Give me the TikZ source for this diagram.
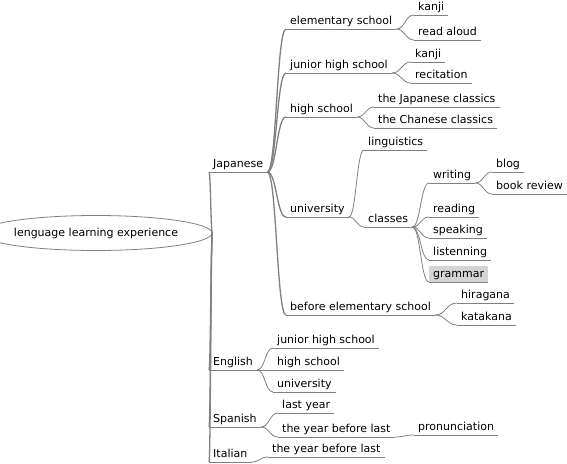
\documentclass[tikz,border=0pt]{standalone}
\usepackage{fontspec}
\setmainfont{DejaVu Sans}
\usetikzlibrary{shapes.geometric, calc}
\definecolor{edgegray}{HTML}{808080}
\tikzset{
  topic/.style={anchor=south west, inner xsep=4pt, inner ysep=1.5pt, text height=10pt, text depth=2.5pt, font=\fontsize{11}{13}\selectfont},
  uline/.style={draw=edgegray, line width=0.8pt},
  branch/.style={draw=edgegray, line width=0.8pt, to path={let \p1=(\tikztostart), \p2=(\tikztotarget) in .. controls ({0.5*\x1+0.5*\x2},\y1) and ({0.5*\x1+0.5*\x2},\y2) .. (\p2)}},
  trunk/.style={branch, line width=1.3pt}
}
\begin{document}
\begin{tikzpicture}[x=1pt, y=-1pt]
	\useasboundingbox (0,0) rectangle (567,463);
	\node[ellipse, draw=edgegray, line width=0.8pt, minimum width=190pt, minimum height=35pt, inner sep=0pt, font=\fontsize{11}{13}\selectfont] (root) at (96,233) {lenguage learning experience};
	% Japanese
	\node[topic] (jp) at (209,172) {Japanese};
	\node[topic] (es) at (286,29) {elementary school};
	\node[topic] (k1) at (414,15) {kanji};
	\node[topic] (ra) at (414,40) {read aloud};
	\node[topic] (jh) at (286,73) {junior high school};
	\node[topic] (k2) at (411,62) {kanji};
	\node[topic] (rc) at (411,83) {recitation};
	\node[topic] (hs) at (286,117) {high school};
	\node[topic] (jc) at (374,107) {the Japanese classics};
	\node[topic] (cc) at (374,128) {the Chanese classics};
	\node[topic] (un) at (286,217) {university};
	\node[topic] (li) at (364,150) {linguistics};
	\node[topic] (cl) at (364,227) {classes};
	\node[topic] (wr) at (429,183) {writing};
	\node[topic] (bl) at (492,172) {blog};
	\node[topic] (br) at (492,194) {book review};
	\node[topic] (rd) at (429,217) {reading};
	\node[topic] (sp) at (429,238) {speaking};
	\node[topic] (ls) at (429,260) {listenning};
	\node[topic, fill=black!17] (gr) at (429,282) {grammar};
	\node[topic] (be) at (286,315) {before elementary school};
	\node[topic] (hi) at (457,303) {hiragana};
	\node[topic] (ka) at (457,325) {katakana};
	% English, Spanish, Italian
	\node[topic] (en) at (209,370) {English};
	\node[topic] (ej) at (273,348) {junior high school};
	\node[topic] (eh) at (273,370) {high school};
	\node[topic] (eu) at (273,392) {university};
	\node[topic] (sn) at (209,427) {Spanish};
	\node[topic] (ly) at (278,413) {last year};
	\node[topic] (sy) at (278,437) {the year before last};
	\node[topic] (pr) at (414,435) {pronunciation};
	\node[topic] (it) at (209,462) {Italian};
	\node[topic] (iy) at (268,457) {the year before last};
	% underlines
	\foreach \n in {jp,es,k1,ra,jh,k2,rc,hs,jc,cc,un,li,cl,wr,bl,br,rd,sp,ls,gr,be,hi,ka,en,ej,eh,eu,sn,ly,sy,pr,it,iy}
		\draw[uline] (\n.south west) -- (\n.south east);
	% connectors
	\foreach \b in {jp,en,sn,it}
		\draw[trunk] (root.east) to (\b.south west);
	\foreach \b in {es,jh,hs,un,be}
		\draw[trunk] (jp.south east) to (\b.south west);
	\foreach \a/\b in {es/k1,es/ra,jh/k2,jh/rc,hs/jc,hs/cc,un/li,un/cl,cl/wr,cl/rd,cl/sp,cl/ls,cl/gr,wr/bl,wr/br,be/hi,be/ka,en/ej,en/eh,en/eu,sn/ly,sn/sy,sy/pr,it/iy}
		\draw[branch] (\a.south east) to (\b.south west);
\end{tikzpicture}
\end{document}
